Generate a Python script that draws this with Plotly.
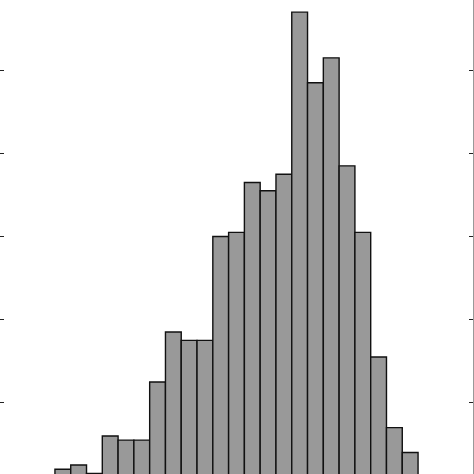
import plotly.graph_objects as go

bins = list(range(23))
counts = [4, 5, 3, 12, 11, 11, 25, 37, 35, 35, 60, 61, 73, 71, 75, 114, 97, 103, 77, 61, 31, 14, 8]
tick_vals = [20, 40, 60, 80, 100]

fig = go.Figure()
fig.add_trace(go.Bar(
    x=bins, y=counts, width=1.0,
    marker=dict(color="#999999", line=dict(color="#111111", width=1.4)),
    showlegend=False, hoverinfo="skip",
))
# invisible trace to anchor the right-hand axis
fig.add_trace(go.Scatter(x=[bins[0]], y=[counts[0]], yaxis="y2", mode="markers",
                         marker=dict(opacity=0), showlegend=False, hoverinfo="skip"))

yr = [2.84, 116.92]
fig.update_layout(
    width=474, height=474,
    margin=dict(l=0, r=1, t=0, b=0),
    paper_bgcolor="white", plot_bgcolor="white",
    bargap=0,
    xaxis=dict(range=[-3.98, 25.98], visible=False, fixedrange=True),
    yaxis=dict(range=yr, tickvals=tick_vals, ticks="inside", ticklen=4,
               tickcolor="#222222", tickwidth=1.2, showticklabels=False,
               showgrid=False, zeroline=False, showline=False, fixedrange=True),
    yaxis2=dict(range=yr, overlaying="y", side="right", tickvals=tick_vals,
                ticks="inside", ticklen=4, tickcolor="#222222", tickwidth=1.2,
                showticklabels=False, showgrid=False, zeroline=False,
                showline=True, linecolor="#999999", linewidth=1.2, fixedrange=True),
)
fig.write_html("out.html",
               config={"displayModeBar": False, "staticPlot": True},
               post_script="document.body.style.margin='0';document.body.style.overflow='hidden';")
